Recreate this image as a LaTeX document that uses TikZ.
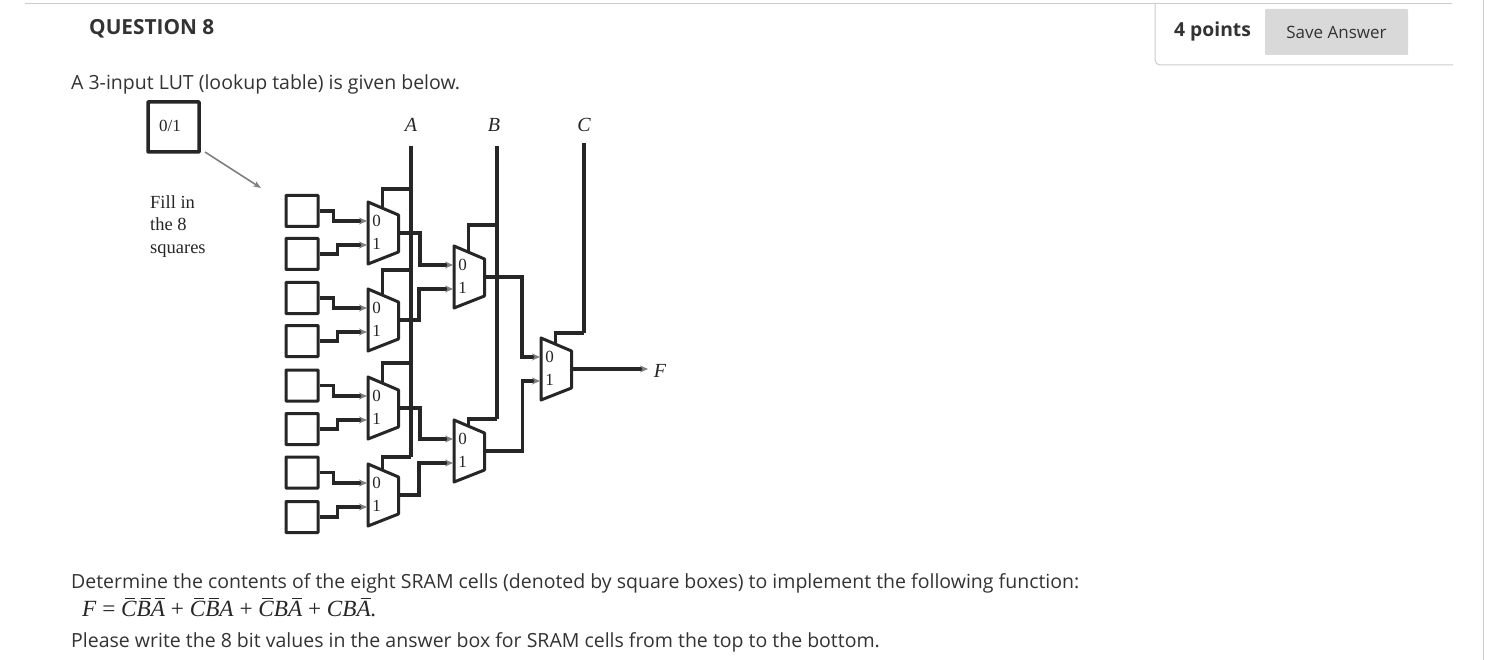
\documentclass[tikz,border=0pt]{standalone}
\usepackage{fontspec}
\setmainfont{Open Sans}
\newfontfamily\serifimg{Liberation Serif}
\usetikzlibrary{arrows.meta}
\definecolor{txt}{HTML}{333333}
\definecolor{ink}{HTML}{262626}
\definecolor{rulegray}{HTML}{CCCCCC}
\definecolor{btn}{HTML}{D9D9D9}
\newcommand{\ovl}[1]{\leavevmode\rlap{\kern.17em\rule[.74em]{.44em}{.05em}}#1}
\tikzset{
  body/.style={font=\fontsize{19.5}{24}\selectfont,text=txt,anchor=base west,inner sep=0pt},
  head/.style={font=\fontsize{20.8}{24}\selectfont\bfseries,text=txt,anchor=base west,inner sep=0pt},
  sram/.style={draw=ink,line width=3pt,minimum width=32pt,minimum height=31pt,inner sep=0pt,rounded corners=0.6pt},
  muxbody/.style={draw=ink,line width=3pt,line join=round,fill=white},
  sigline/.style={draw=ink,line width=3.15pt},
  inwire/.style={sigline,-{Stealth[length=8pt,width=7pt,color=gray]}},
  figtext/.style={font=\serifimg\fontsize{18.5}{22}\selectfont,text=ink,inner sep=0pt},
  figital/.style={font=\serifimg\itshape\fontsize{20}{22}\selectfont,text=ink,inner sep=0pt},
  muxtext/.style={font=\serifimg\fontsize{17}{18}\selectfont,text=ink,inner sep=0pt},
}
% #1 name, #2 left x, #3 top y
\newcommand{\muxcell}[3]{%
  \draw[muxbody] (#2,#3) -- (#2+30.5,#3+13) -- (#2+30.5,#3+50) -- (#2,#3+62) -- cycle;
  \node[muxtext] (#1-zero) at (#2+8.5,#3+19) {0};
  \node[muxtext] (#1-one) at (#2+8.5,#3+42) {1};
  \coordinate (#1-in0) at (#2-1,#3+19);
  \coordinate (#1-in1) at (#2-1,#3+43);
  \coordinate (#1-out) at (#2+30.5,#3+31);
  \coordinate (#1-sel) at (#2+14.5,#3+6);
}
\begin{document}
\begin{tikzpicture}[x=1pt,y=-1pt]
\useasboundingbox (0,0) rectangle (1512,660);
\fill[white] (0,0) rectangle (1512,660);
% page furniture
\coordinate (ruleL) at (25,3.5);
\coordinate (ruleR) at (1452,3.5);
\draw[rulegray,line width=1pt] (ruleL) -- (ruleR);
\coordinate (pageR) at (1483,0);
\coordinate (pageRb) at (1483,660);
\draw[rulegray,line width=1pt] (pageR) -- (pageRb);
\coordinate (panelT) at (1155,3);
\coordinate (panelB) at (1453,65);
\draw[rulegray,line width=1pt,rounded corners=5pt] (panelT) |- (panelB);
\node[head] (qtitle) at (89,35) {QUESTION 8};
\node[head,font=\fontsize{19.3}{24}\selectfont\bfseries] (pts) at (1174,37) {4 points};
\node[fill=btn,minimum width=143pt,minimum height=46pt,inner sep=0pt,rounded corners=1pt,font=\fontsize{17}{20}\selectfont,text=txt] (save) at (1336.5,32) {Save Answer};
\node[body] (intro) at (71,90) {A 3-input LUT (lookup table) is given below.};
\node[body] (det) at (71,588) {Determine the contents of the eight SRAM cells (denoted by square boxes) to implement the following function:};
\node[anchor=base west,inner sep=0pt,text=ink,font=\serifimg\fontsize{23.2}{24}\selectfont] (eqn) at (82,616) {\textit{F} = \textit{\ovl{C}\ovl{B}\ovl{A}} + \textit{\ovl{C}\ovl{B}A} + \textit{\ovl{C}B\ovl{A}} + \textit{CB\ovl{A}.}};
\node[body] (pls) at (71,647) {Please write the 8 bit values in the answer box for SRAM cells from the top to the bottom.};
% legend
\node[draw=ink,line width=3.5pt,minimum width=51pt,minimum height=50pt,inner sep=0pt,rounded corners=0.6pt] (legend) at (173.5,127) {};
\node[muxtext] (legendtxt) at (170,126) {0/1};
\coordinate (legendA) at (205,152);
\coordinate (legendB) at (261,188);
\draw[gray,line width=1.6pt,-{Stealth[length=8pt,width=6pt]}] (legendA) -- (legendB);
\node[figtext,anchor=base west] (fill1) at (150,209) {Fill in};
\node[figtext,anchor=base west] (fill2) at (150,231) {the 8};
\node[figtext,anchor=base west] (fill3) at (150,254) {squares};
% sram cells
\node[sram] (s1) at (302,211) {};
\node[sram] (s2) at (302,254) {};
\node[sram] (s3) at (302,298) {};
\node[sram] (s4) at (302,341) {};
\node[sram] (s5) at (302,385.5) {};
\node[sram] (s6) at (302,429) {};
\node[sram] (s7) at (302,472.5) {};
\node[sram] (s8) at (302,517) {};
% buses
\node[figital] (lA) at (411,125) {A};
\node[figital] (lB) at (494,125) {B};
\node[figital] (lC) at (584,125) {C};
\coordinate (A0) at (411,146); \coordinate (A1) at (411,189); \coordinate (A2) at (411,270);
\coordinate (A3) at (411,363); \coordinate (A4) at (411,457);
\coordinate (B0) at (497,146); \coordinate (B1) at (497,225); \coordinate (B2) at (497,419);
\coordinate (C0) at (584,143); \coordinate (C1) at (584,333);
\muxcell{m1}{368}{202}
\muxcell{m2}{368}{289}
\muxcell{m3}{368}{377}
\muxcell{m4}{368}{464}
\muxcell{n1}{454}{246}
\muxcell{n2}{454}{420}
\muxcell{p1}{541}{338}
\draw[sigline] (A0) -- (A4);
\draw[sigline] (B0) -- (B2);
\draw[sigline] (C0) -- (C1);
% select lines
\draw[sigline] (m1-sel) |- (A1);
\draw[sigline] (m2-sel) |- (A2);
\draw[sigline] (m3-sel) |- (A3);
\draw[sigline] (m4-sel) |- (A4);
\draw[sigline] (n1-sel) |- (B1);
\draw[sigline] (n2-sel) |- (B2);
\draw[sigline] (p1-sel) |- (C1);
% inputs
\draw[inwire] (s1.east) -- ++(14,0) |- (m1-in0);
\draw[inwire] (s2.east) -- ++(18,0) |- (m1-in1);
\draw[inwire] (s3.east) -- ++(14,0) |- (m2-in0);
\draw[inwire] (s4.east) -- ++(18,0) |- (m2-in1);
\draw[inwire] (s5.east) -- ++(14,0) |- (m3-in0);
\draw[inwire] (s6.east) -- ++(18,0) |- (m3-in1);
\draw[inwire] (s7.east) -- ++(14,0) |- (m4-in0);
\draw[inwire] (s8.east) -- ++(18,0) |- (m4-in1);
% first-level outputs
\draw[inwire] (m1-out) -- ++(21.5,0) |- (n1-in0);
\draw[inwire] (m2-out) -- ++(20.5,0) |- (n1-in1);
\draw[inwire] (m3-out) -- ++(21.5,0) |- (n2-in0);
\draw[inwire] (m4-out) -- ++(20.5,0) |- (n2-in1);
% second-level outputs
\draw[inwire] (n1-out) -- ++(37.5,0) |- (p1-in0);
\draw[inwire] (n2-out) -- ++(38,0) |- (p1-in1);
% output F
\node[figital] (lF) at (660,371) {F};
\coordinate (Fend) at (648,369);
\draw[inwire] (p1-out) -- (Fend);
\end{tikzpicture}
\end{document}
